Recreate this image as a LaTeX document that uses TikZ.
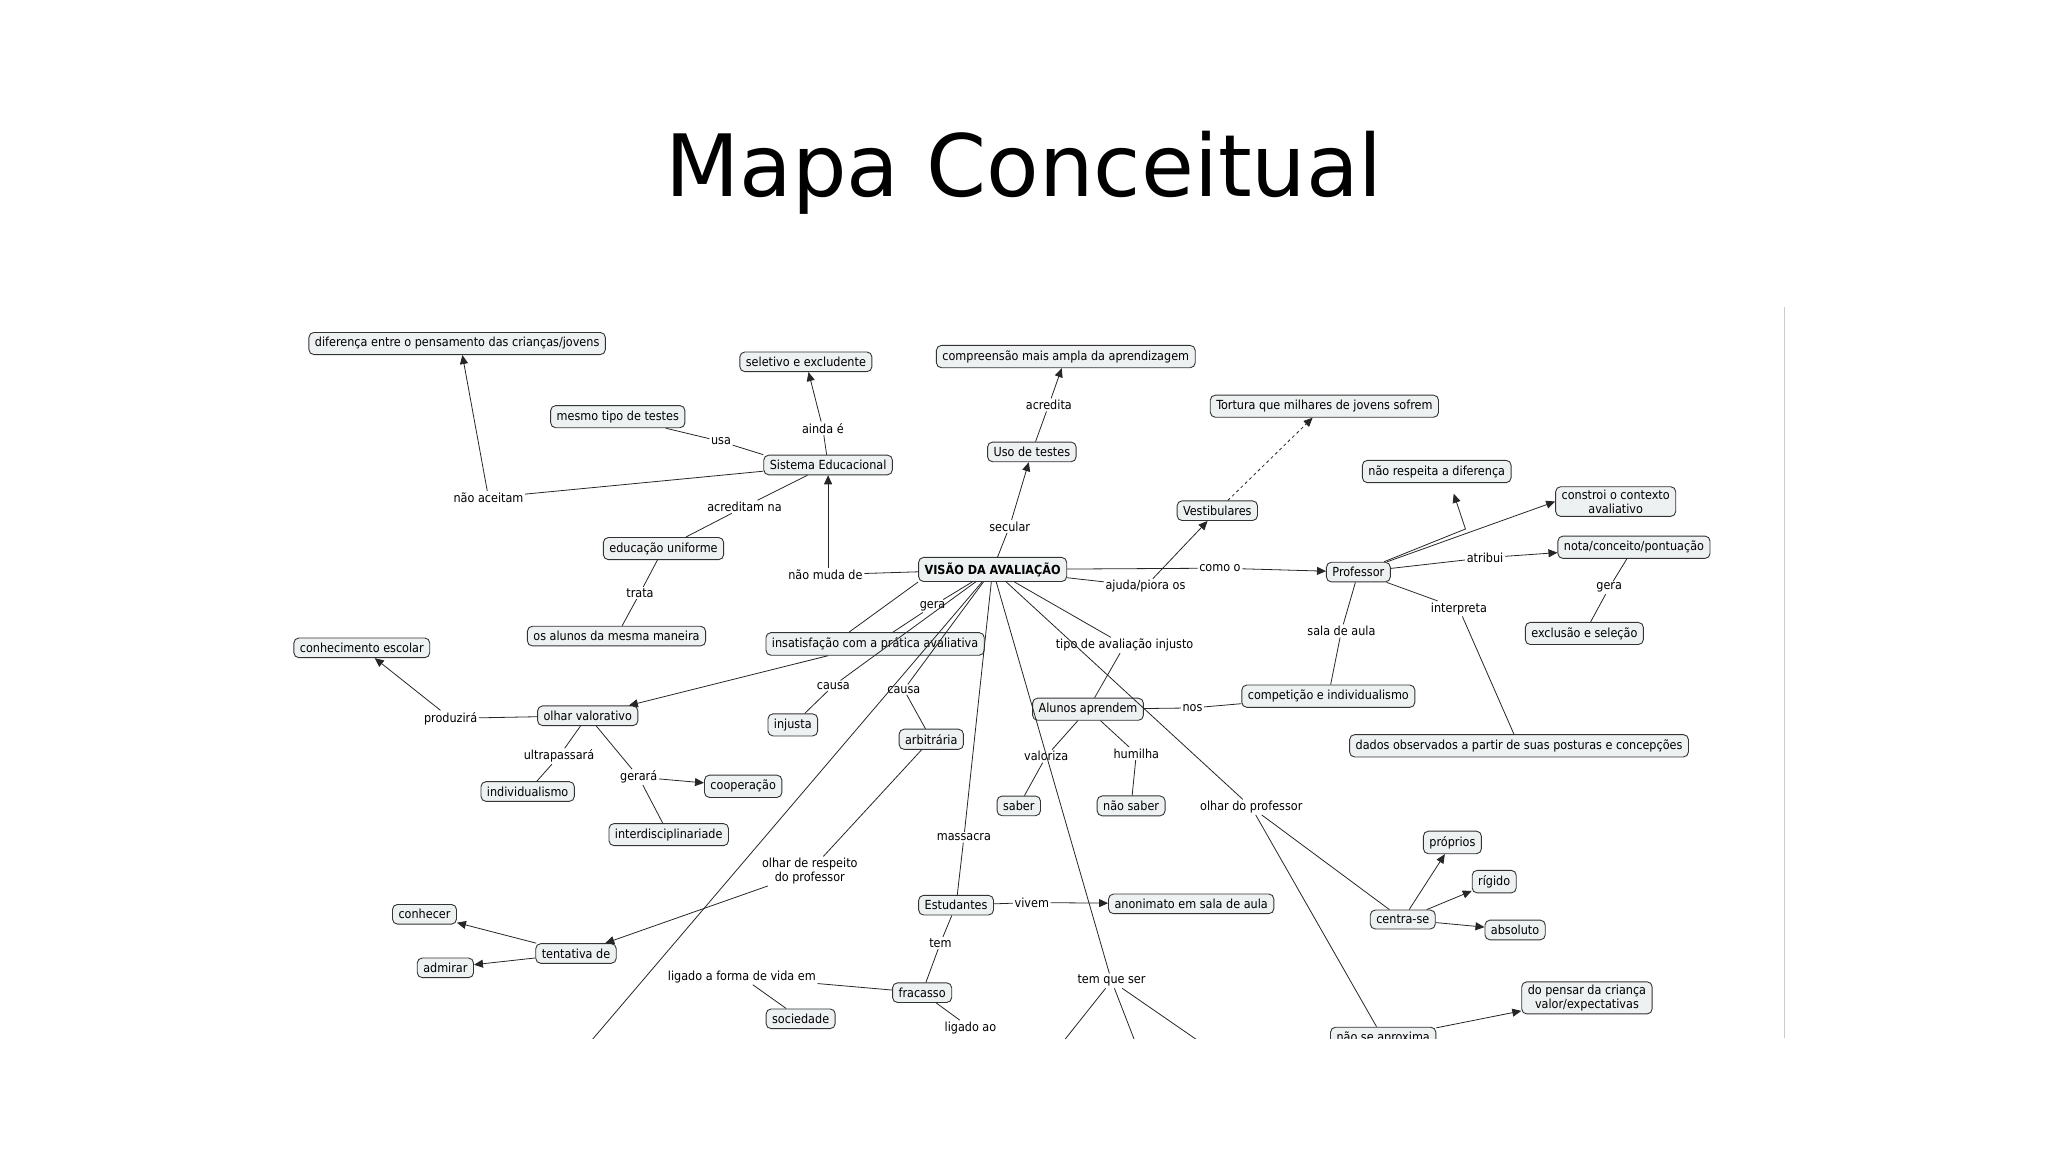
\documentclass[tikz,border=0pt]{standalone}
\usepackage{fontspec}
\setmainfont{DejaVu Sans}
\newfontfamily\cond{DejaVu Sans Condensed}
\usetikzlibrary{arrows.meta}
\definecolor{boxfill}{HTML}{EEF1F1}
\tikzset{
 cbox/.style={draw=black!80,fill=boxfill,rounded corners=5pt,line width=0.9pt,font=\cond\fontsize{12.5}{14}\selectfont,inner xsep=6pt,inner ysep=5pt,align=center},
 lab/.style={fill=white,inner sep=1.5pt,font=\cond\fontsize{12.5}{14}\selectfont,align=center},
 ln/.style={draw=black!85,line width=0.8pt},
 ar/.style={ln,-{Triangle[length=9pt,width=8pt]}},
}
\begin{document}
\begin{tikzpicture}[x=1.306pt,y=-1.306pt]
\useasboundingbox (0,0) rectangle (1568,882);
\node[font=\fontsize{86}{96}\selectfont] at (784,132) {Mapa Conceitual};
\draw[black!20,line width=1pt] (1366,235) -- (1366,795);
\begin{scope}
\clip (150,220) rectangle (1366,795);
% boxes
\node[cbox] (dif) at (350,263) {diferença entre o pensamento das crianças/jovens};
\node[cbox] (sel) at (617,277) {seletivo e excludente};
\node[cbox] (comp) at (816,273) {compreensão mais ampla da aprendizagem};
\node[cbox] (mesmo) at (473,319) {mesmo tipo de testes};
\node[cbox] (tort) at (1014,311) {Tortura que milhares de jovens sofrem};
\node[cbox] (sist) at (634,356) {Sistema Educacional};
\node[cbox] (uso) at (790,346) {Uso de testes};
\node[cbox] (naoresp) at (1100,361) {não respeita a diferença};
\node[cbox,inner ysep=3pt] (constroi) at (1237,384) {constroi o contexto\\avaliativo};
\node[cbox] (vest) at (932,391) {Vestibulares};
\node[cbox] (nota) at (1251,419) {nota/conceito/pontuação};
\node[cbox] (edu) at (508,420) {educação uniforme};
\node[cbox,font=\cond\bfseries\fontsize{12.5}{14}\selectfont] (visao) at (760,436) {VISÃO DA AVALIAÇÃO};
\node[cbox] (prof) at (1040,438) {Professor};
\node[cbox] (alunos) at (472,487) {os alunos da mesma maneira};
\node[cbox] (insat) at (670,493) {insatisfação com a prática avaliativa};
\node[cbox] (excl) at (1213,485) {exclusão e seleção};
\node[cbox] (conh) at (277,496) {conhecimento escolar};
\node[cbox] (compet) at (1017,533) {competição e individualismo};
\node[cbox] (alunosap) at (833,543) {Alunos aprendem};
\node[cbox] (olharv) at (450,548) {olhar valorativo};
\node[cbox] (injusta) at (607,555) {injusta};
\node[cbox] (arb) at (713,566) {arbitrária};
\node[cbox] (dados) at (1163,571) {dados observados a partir de suas posturas e concepções};
\node[cbox] (coop) at (569,602) {cooperação};
\node[cbox] (indiv) at (404,606) {individualismo};
\node[cbox] (saber) at (780,617) {saber};
\node[cbox] (naosaber) at (866,617) {não saber};
\node[cbox] (interd) at (512,639) {interdisciplinariade};
\node[cbox] (proprios) at (1112,645) {próprios};
\node[cbox] (rigido) at (1144,675) {rígido};
\node[cbox] (estud) at (732,693) {Estudantes};
\node[cbox] (anon) at (912,692) {anonimato em sala de aula};
\node[cbox] (conhecer) at (325,700) {conhecer};
\node[cbox] (centra) at (1074,704) {centra-se};
\node[cbox] (absoluto) at (1160,712) {absoluto};
\node[cbox] (tent) at (441,730) {tentativa de};
\node[cbox] (admirar) at (341,741) {admirar};
\node[cbox,inner ysep=3pt] (dopensar) at (1215,764) {do pensar da criança\\valor/expectativas};
\node[cbox] (fracasso) at (706,760) {fracasso};
\node[cbox] (sociedade) at (613,780) {sociedade};
\node[cbox] (naoseap) at (1059,795) {não se aproxima};
% labels
\node[lab] (lnaoac) at (374,381) {não aceitam};
\node[lab] (lainda) at (630,328) {ainda é};
\node[lab] (lusa) at (552,338) {usa};
\node[lab] (lacred) at (570,388) {acreditam na};
\node[lab] (ltrata) at (490,454) {trata};
\node[lab] (lnaomuda) at (632,440) {não muda de};
\node[lab] (lacredita) at (803,310) {acredita};
\node[lab] (lsecular) at (773,403) {secular};
\node[lab] (lcomoo) at (934,435) {como o};
\node[lab] (lajuda) at (877,449) {ajuda/piora os};
\node[lab] (lgera) at (714,464) {gera};
\node[lab] (ltipo) at (861,494) {tipo de avaliação injusto};
\node[lab] (latribui) at (1137,427) {atribui};
\node[lab] (linterp) at (1117,466) {interpreta};
\node[lab] (lsala) at (1027,483) {sala de aula};
\node[lab] (lgera2) at (1232,450) {gera};
\node[lab] (lcausa1) at (638,525) {causa};
\node[lab] (lcausa2) at (692,528) {causa};
\node[lab] (lnos) at (913,542) {nos};
\node[lab] (lprod) at (345,550) {produzirá};
\node[lab] (lultra) at (428,579) {ultrapassará};
\node[lab] (lgerara) at (489,595) {gerará};
\node[lab] (lvaloriza) at (801,579) {valoriza};
\node[lab] (lhumilha) at (870,577) {humilha};
\node[lab] (lolharp) at (958,618) {olhar do professor};
\node[lab] (lmassacra) at (738,641) {massacra};
\node[lab] (lrespeito) at (620,667) {olhar de respeito\\do professor};
\node[lab] (lvivem) at (790,691) {vivem};
\node[lab] (ltem) at (720,722) {tem};
\node[lab] (lligado) at (568,748) {ligado a forma de vida em};
\node[lab] (ltemque) at (851,751) {tem que ser};
\node[lab] (lligadoao) at (743,787) {ligado ao};
\coordinate (e1) at (450,800);
\coordinate (e2) at (812,800);
\coordinate (e3) at (870,800);
\coordinate (e4) at (922,800);
% connectors
\draw[ln] (sist) -- (lnaoac); \draw[ar] (lnaoac) -- (dif.south -| 354,0);
\draw[ln] (sist) -- (lainda); \draw[ar] (lainda) -- (sel);
\draw[ln] (sist.north west) -- (lusa); \draw[ln] (lusa) -- (mesmo);
\draw[ln] (sist) -- (lacred); \draw[ln] (lacred) -- (edu);
\draw[ln] (edu) -- (ltrata); \draw[ln] (ltrata) -- (alunos);
\draw[ln] (visao) -- (lnaomuda); \draw[ar] (lnaomuda.north -| 634,0) -- (sist.south -| 634,0);
\draw[ln] (visao) -- (lsecular); \draw[ar] (lsecular) -- (uso);
\draw[ln] (uso) -- (lacredita); \draw[ar] (lacredita) -- (comp);
\draw[ln] (visao) -- (lajuda); \draw[ar] (lajuda) -- (vest);
\draw[ar,dashed] (vest) -- (tort);
\draw[ln] (visao) -- (lcomoo); \draw[ar] (lcomoo) -- (prof);
\draw[ar] (prof) -- (1122,405) -- (1113,378);
\draw[ar] (prof) -- (constroi.west);
\draw[ln] (prof) -- (latribui); \draw[ar] (latribui) -- (nota);
\draw[ln] (nota) -- (lgera2); \draw[ln] (lgera2) -- (excl);
\draw[ln] (prof) -- (linterp); \draw[ln] (linterp) -- (dados);
\draw[ln] (prof) -- (lsala); \draw[ln] (lsala) -- (compet);
\draw[ln] (visao) -- (lgera); \draw[ln] (lgera) -- (insat);
\draw[ln] (visao.south west) -- (insat.north west -| 650,0);
\draw[ln] (visao) -- (lcausa1); \draw[ln] (lcausa1) -- (injusta);
\draw[ln] (visao) -- (lcausa2); \draw[ln] (lcausa2) -- (arb);
\draw[ln] (visao) -- (e1);
\draw[ln] (visao) -- (lmassacra); \draw[ln] (lmassacra) -- (estud);
\draw[ln] (visao) -- (ltipo); \draw[ln] (ltipo) -- (alunosap);
\draw[ln] (visao) -- (ltemque);
\draw[ln] (visao) -- (lolharp);
\draw[ln] (arb) -- (lrespeito); \draw[ar] (lrespeito) -- (tent);
\draw[ar] (insat) -- (olharv);
\draw[ln] (olharv) -- (lprod); \draw[ar] (lprod) -- (conh);
\draw[ln] (olharv) -- (lultra); \draw[ln] (lultra) -- (indiv);
\draw[ln] (olharv) -- (lgerara); \draw[ar] (lgerara) -- (coop); \draw[ln] (lgerara) -- (interd);
\draw[ln] (alunosap) -- (lnos); \draw[ln] (lnos) -- (compet);
\draw[ln] (alunosap) -- (lvaloriza); \draw[ln] (lvaloriza) -- (saber);
\draw[ln] (alunosap) -- (lhumilha); \draw[ln] (lhumilha) -- (naosaber);
\draw[ln] (lolharp) -- (centra); \draw[ln] (lolharp) -- (naoseap);
\draw[ar] (centra) -- (proprios); \draw[ar] (centra) -- (rigido); \draw[ar] (centra) -- (absoluto);
\draw[ar] (naoseap) -- (dopensar);
\draw[ar] (tent) -- (conhecer); \draw[ar] (tent) -- (admirar);
\draw[ln] (estud) -- (lvivem); \draw[ar] (lvivem) -- (anon);
\draw[ln] (estud) -- (ltem); \draw[ln] (ltem) -- (fracasso);
\draw[ln] (fracasso) -- (lligado); \draw[ln] (lligado) -- (sociedade);
\draw[ln] (fracasso) -- (lligadoao);
\draw[ln] (ltemque) -- (e2); \draw[ln] (ltemque) -- (e3); \draw[ln] (ltemque) -- (e4);
\end{scope}
\end{tikzpicture}
\end{document}
